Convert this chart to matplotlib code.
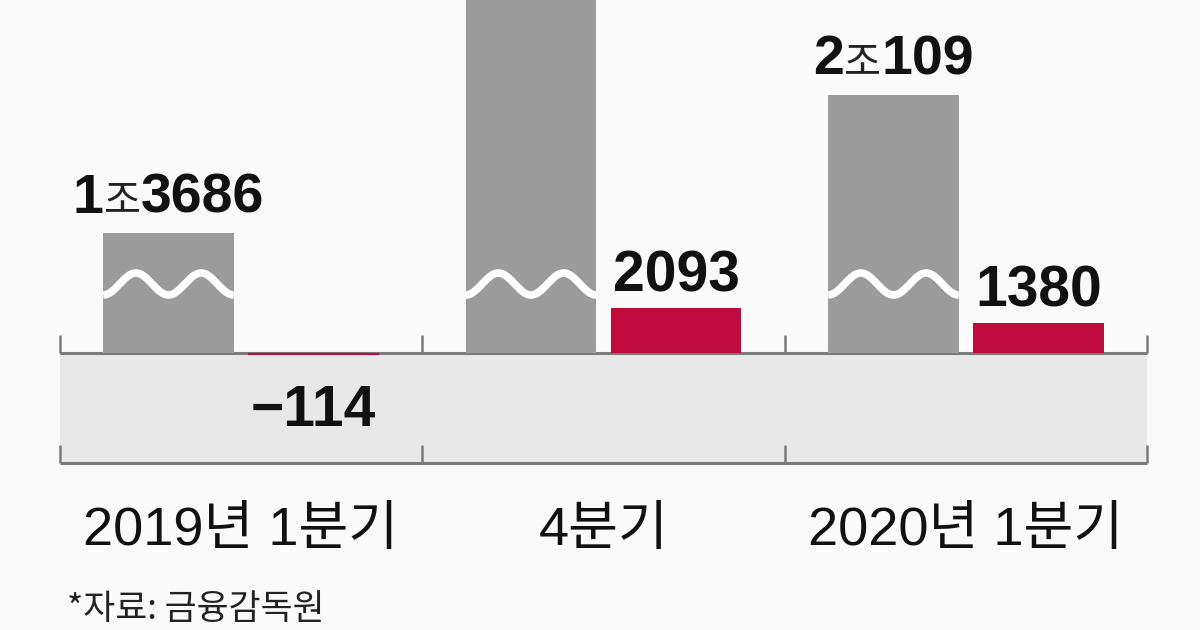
import numpy as np
import matplotlib
matplotlib.use("Agg")
import matplotlib.pyplot as plt
from matplotlib.offsetbox import TextArea, HPacker, AnnotationBbox

# 데이터 (단위: 억원)
categories = ["2019년 1분기", "4분기", "2020년 1분기"]
gray_values = [13686, 26000, 20109]   # 4분기 값은 그림에서 잘림 (추정)
red_values = [-114, 2093, 1380]
gray_labels_on = [True, False, True]
source_text = "*자료: 금융감독원"

NUM_FONT = ["Liberation Sans Narrow", "Liberation Sans", "Noto Sans CJK KR"]
KR_FONT = ["Noto Sans CJK KR", "DejaVu Sans"]
BG = "#fafafa"
GRAY = "#9b9b9b"
RED = "#c10a3d"
BAND = "#e8e8e8"
LINE = "#7b7b7b"

# 물결 생략 구간이 있는 y축 (4000~12104 구간을 접음)
knots_d = [-1e7, 4000, 12104, 1e7]
knots_t = [-1e7, 4000, 4001, 1e7 - 8103]


def fwd(y):
    return np.interp(np.asarray(y, dtype=float), knots_d, knots_t)


def inv(y):
    return np.interp(np.asarray(y, dtype=float), knots_t, knots_d)


def fmt_value(v):
    if v >= 10000:
        return [(f"{v // 10000}", True), ("조", False), (f"{v % 10000}", True)]
    return [(f"{v}", True)]


fig = plt.figure(figsize=(12, 6.3), dpi=100, facecolor=BG)
ax = fig.add_axes([0, 0, 1, 1])
ax.set_facecolor(BG)
ax.set_yscale("function", functions=(fwd, inv))

x = np.arange(len(categories))
off = 0.2
width = 0.36
upp = 46.5  # 1 pixel 당 값

band_bottom = -110 * upp
tick_h = 18 * upp

# 아래 회색 띠와 기준선
ax.fill_between([-0.5, len(categories) - 0.5], band_bottom, 0, color=BAND, zorder=1, lw=0)
ax.hlines([0, band_bottom], -0.5, len(categories) - 0.5, color=LINE, lw=2.2, zorder=2)
bounds = np.arange(len(categories) + 1) - 0.5
ax.vlines(bounds, 0, tick_h, color=LINE, lw=1.8, zorder=2)
ax.vlines(bounds, band_bottom, band_bottom + tick_h, color=LINE, lw=1.8, zorder=2)

ax.bar(x - off, gray_values, width, color=GRAY, zorder=3, lw=0)
ax.bar(x + off, red_values, width, color=RED, zorder=3, lw=0)

# 물결 표시
t = np.linspace(0, 1, 200)
wave_c = 69 * upp
wave_a = 11 * upp
for xi in x - off:
    ax.plot(xi - width / 2 + t * width, wave_c - wave_a * np.cos(4 * np.pi * t),
            color="white", lw=5.5, zorder=4, solid_capstyle="butt")

# 회색 막대 값
for xi, v, on in zip(x - off, gray_values, gray_labels_on):
    if not on:
        continue
    parts = []
    for s, big in fmt_value(v):
        if big:
            parts.append(TextArea(s, textprops=dict(fontsize=40, family=NUM_FONT, weight="bold", color="#111111")))
        else:
            parts.append(TextArea(s, textprops=dict(fontsize=29, family=KR_FONT, color="#222222")))
    box = HPacker(children=parts, align="baseline", pad=0, sep=0)
    ab = AnnotationBbox(box, (xi, v), xybox=(0, 6), xycoords="data", boxcoords="offset points",
                        frameon=False, box_alignment=(0.5, 0), zorder=5)
    ax.add_artist(ab)

# 빨간 막대 값
for xi, v in zip(x + off, red_values):
    label = f"{v}" if v >= 0 else f"\u2212{abs(v)}"
    dy = 12 if v >= 0 else -51
    ax.annotate(label, (xi, v), xytext=(0, dy), textcoords="offset points",
                ha="center", va="baseline", fontsize=41, family=NUM_FONT, weight="bold",
                color="#111111", zorder=5)

# x축 항목
for xi, c in zip(x, categories):
    ax.text(xi, -192 * upp, c, ha="center", va="baseline", fontsize=39,
            family=["Liberation Sans Narrow", "Liberation Sans", "Noto Sans CJK KR"], color="#111111")

fig.text(67 / 1200, 3 / 630, source_text, ha="left", va="bottom", fontsize=25,
         family=KR_FONT, color="#222222")

ax.set_xlim(-241 / 362.5, (1200 - 241) / 362.5)
ax.set_ylim(-277 * upp, inv(353 * upp))
ax.axis("off")

fig.savefig("out.png", dpi=100, facecolor=BG)
